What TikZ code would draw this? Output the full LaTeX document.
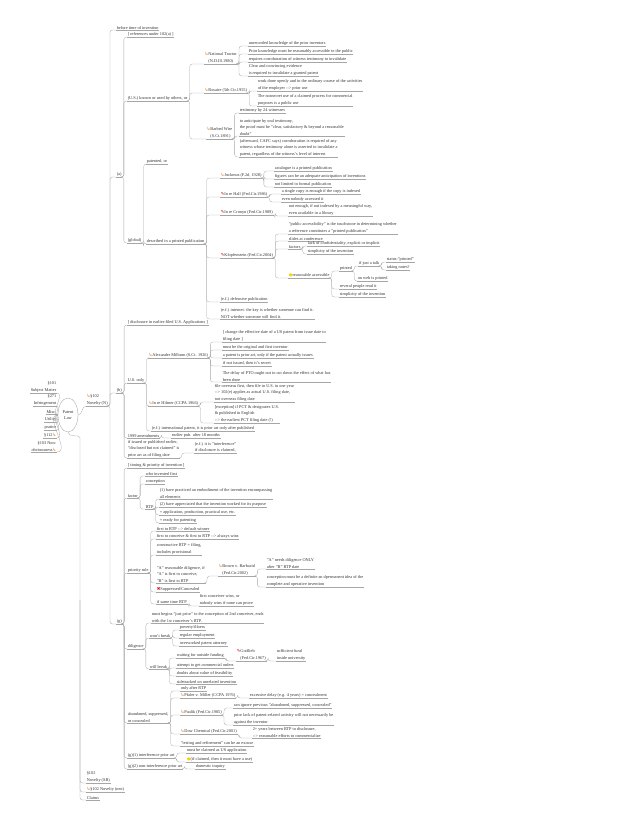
\documentclass[tikz,border=0pt]{standalone}
\usepackage{fontspec}
\setmainfont{Liberation Serif}
\newfontfamily\dv{DejaVu Sans}
\usetikzlibrary{shapes.geometric}
\newcommand\ia{{\dv\color{orange!85!black}↳}}
\newcommand\ip{{\dv\color{red!75!black}✎}}
\newcommand\ix{{\dv\color{red!80!black}✖}}
\newcommand\ib{{\dv\color{yellow!70!orange}●}}
\tikzset{
 t/.style={anchor=south west,inner sep=0.6pt,align=left,text=black!80,
   font=\fontsize{4.3}{6.4}\selectfont,
   append after command={(\tikzlastnode.south west) edge[draw=black!35,line width=0.3pt] (\tikzlastnode.south east)}},
 tr/.style={t,anchor=south east,align=right},
 con/.style={draw=black!35,line width=0.3pt,rounded corners=2.5pt}
}
\newcommand\lk[2]{\draw[con] (#1.south east) -- ++(1.5,0) |- (#2.south west);}
\newcommand\lkl[2]{\draw[con] (#2.west) to[out=180,in=0] (#1.south east);}
\begin{document}
\begin{tikzpicture}[x=1pt,y=-1pt]
\useasboundingbox (0,0) rectangle (638,826);
% center
\node[ellipse,draw=black!40,line width=0.3pt,inner sep=0.5pt,minimum width=20,minimum height=34,align=center,font=\fontsize{4.3}{6.4}\selectfont,text=black!80] (pl) at (68,415) {Patent\\Law};
\node[tr] (s101) at (57,393) {§101\\Subject Matter};
\node[tr] (s271) at (57,406) {§271\\Infringement};
\node[tr] (misc) at (57,414) {Misc.};
\node[tr] (util) at (57,422) {Utility};
\node[tr] (prat) at (57,430) {pratice};
\node[tr] (s112) at (57,438) {§112\ia};
\node[tr] (s103) at (57,452) {§103 Non-\\obviousness\ia};
\foreach \n in {s101,s271,misc,util,prat,s112,s103}{\lkl{\n}{pl}}
\node[t] (n102) at (86,406) {\ia§102\\Novelty (N)};
\node[t] (sb) at (86,783) {§102\\Novelty (SB)};
\node[t] (neo) at (86,792) {\ia§102 Novelty (neo)};
\node[t] (cl) at (86,800) {Claims};
\draw[con] (pl.east) to[out=0,in=180] (n102.south west);
\draw[con] (pl.south) to[out=-90,in=90] (80,440) |- (sb.south west);
\draw[con] (80,600) |- (neo.south west);
\draw[con] (80,600) |- (cl.south west);
% level (a)(b)(g)
\node[t] (bt) at (116,30) {before time of invention};
\node[t] (a) at (116,177) {(a)};
\node[t] (b) at (116,393) {(b)};
\node[t] (g) at (116,624) {(g)};
\foreach \n in {bt,a,b,g}{\lk{n102}{\n}}
% (a)
\node[t] (ref) at (127,37) {[ references under 102(a) ]};
\node[t] (us) at (127,101) {(U.S.) known or used  by others, or};
\node[t] (pat) at (146,164) {patented, or};
\node[t] (glob) at (127,243) {(global)};
\foreach \n in {ref,us,glob}{\lk{a}{\n}}
\lk{glob}{pat}
\node[t] (nt) at (204,64) {\ia National Tractor\\\hphantom{\ia}(N.D.Ill.1980)};
\node[t] (ros) at (204,93) {\ia Rosaire (5th Cir.1955)};
\node[t] (bw) at (206,139) {\ia Barbed Wire\\\hphantom{\ia}(S.Ct.1891)};
\foreach \n in {nt,ros,bw}{\lk{us}{\n}}
\node[t] (nt1) at (248,46) {unrecorded knowledge of the prior inventors};
\node[t] (nt2) at (248,54) {Prior knowledge must be reasonably accessible to the public};
\node[t] (nt3) at (248,62) {requires corroboration of witness testimony to invalidate};
\node[t] (nt4) at (248,76) {Clear and convincing evidence\\is required to invalidate a granted patent};
\foreach \n in {nt1,nt2,nt3,nt4}{\lk{nt}{\n}}
\node[t] (r1) at (257,91) {work done openly and in the ordinary course of the activities\\of the employer -{}-> prior use};
\node[t] (r2) at (257,106) {The nonsecret use of a claimed process for commercial\\purposes is a public use};
\lk{ros}{r1}\lk{ros}{r2}
\node[t] (b1) at (239,113) {testimony by 24 witnesses};
\node[t] (b2) at (239,136) {to anticipate by oral testimony,\\the proof must be "clear, satisfactory \& beyond a reasonable\\doubt"};
\node[t] (b3) at (239,157) {(afterward, CAFC says)  corroboration is required of any\\witness whose testimony alone is asserted to invalidate a\\patent, regardless of the witness's level of interest};
\lk{bw}{b1}\lk{bw}{b2}\lk{bw}{b3}
\node[t] (dp) at (146,244) {described  in a printed publication};
\lk{glob}{dp}
\node[t] (jo) at (220,178) {\ia Jockmus (F.2d, 1928)};
\node[t] (ha) at (220,197) {\ip In re Hall (Fed.Cir.1986)};
\node[t] (cr) at (220,215) {\ip In re Cronyn (Fed.Cir.1989)};
\node[t] (kl) at (220,258) {\ip Klopfenstein (Fed.Cir.2004)};
\node[t] (df) at (220,302) {(e.f.) defensive publication};
\node[t] (in) at (220,319) {(e.f.) internet: the key is whether someone can find it.\\NOT whether someone will find it.};
\foreach \n in {jo,ha,cr,kl,df,in}{\lk{dp}{\n}}
\node[t] (j1) at (274,171) {catalogue is a printed publication};
\node[t] (j2) at (274,179) {figures can be an adequate anticipation of inventions};
\node[t] (j3) at (274,187) {not limited to formal publication};
\foreach \n in {j1,j2,j3}{\lk{jo}{\n}}
\node[t] (h1) at (281,194) {a single copy is enough if the copy is indexed};
\node[t] (h2) at (281,202) {even nobody accessed it};
\lk{ha}{h1}\lk{ha}{h2}
\node[t] (c1) at (288,216) {not enough, if not indexed by a meaningful way,\\even available in a library};
\lk{cr}{c1}
\node[t] (k1) at (288,234) {"public accessibility" is the touchstone in determining whether\\a reference constitutes a "printed publication"};
\node[t] (k2) at (288,241) {slides at conference};
\node[t] (k3) at (288,249) {factors};
\node[t] (k4) at (288,278) {\ib reasonable accessible};
\foreach \n in {k1,k2,k3,k4}{\lk{kl}{\n}}
\node[t] (f1) at (307,246) {lack of confidentiality, explicit or implicit};
\node[t] (f2) at (307,254) {simplicity of the invention};
\lk{k3}{f1}\lk{k3}{f2}
\node[t] (pr) at (339,271) {printed};
\node[t] (ra2) at (339,289) {several people read it};
\node[t] (ra3) at (339,297) {simplicity of the invention};
\foreach \n in {pr,ra2,ra3}{\lk{k4}{\n}}
\node[t] (tk) at (358,266) {if just a talk};
\node[t] (web) at (357,281) {on web is printed};
\lk{pr}{tk}\lk{pr}{web}
\node[t] (st) at (386,262) {status:"printed"};
\node[t] (tn) at (386,270) {taking notes?};
\lk{tk}{st}\lk{tk}{tn}
% (b)
\node[t] (dis) at (127,325) {[ disclosure in earlier-filed U.S. Applications ]};
\node[t] (uso) at (127,383) {U.S. only};
\node[t] (am99) at (127,438) {1999  amendments};
\node[t] (iss) at (127,458) {if issued or published earlier,\\"disclosed but not claimed" is\\prior art as of filing date};
\foreach \n in {dis,uso,am99,iss}{\lk{b}{\n}}
\node[t] (am) at (148,358) {\ia Alexander Milburn (S.Ct. 1926)};
\node[t] (hi) at (148,406) {\ia In re Hilmer (CCPA 1966)};
\node[t] (ip) at (151,431) {(e.f.) international patent, it is prior art only after published};
\foreach \n in {am,hi,ip}{\lk{uso}{\n}}
\node[t] (m1) at (222,342) {[ change the effective date of a US patent from issue date to\\filing date ]};
\node[t] (m2) at (222,350) {must be the original and first inventor};
\node[t] (m3) at (222,358) {a patent is prior art, only if the patent actually issues};
\node[t] (m4) at (222,366) {if not issued, then it's secret};
\node[t] (m5) at (222,382) {The delay of PTO ought not to cut down the effect of what has\\been done};
\foreach \n in {m1,m2,m3,m4,m5}{\lk{am}{\n}}
\node[t] (hi1) at (214,402) {file overseas first, then file in U.S. in one year\\-{}-> 102(e) applies as actual U.S. filing date,\\not overseas filing date};
\node[t] (hi2) at (214,423) {[exception] if PCT \& designates U.S.\\\& published in English\\-{}-> the earliest PCT filing date (!)};
\lk{hi}{hi1}\lk{hi}{hi2}
\node[t] (e18) at (171,438) {earlier pub. after 18 months};
\lk{am99}{e18}
\node[t] (itf) at (194,453) {(e.f.) it is "interference"\\if disclosure is claimed,};
\lk{iss}{itf}
% (g)
\node[t] (tp) at (127,468) {[ timing \& priority of invention ]};
\node[t] (fa) at (127,498) {factor};
\node[t] (prr) at (127,573) {priority rule};
\node[t] (dil) at (127,649) {diligence};
\node[t] (abn) at (127,723) {abandoned, suppressed,\\or concealed};
\node[t] (g1) at (127,758) {(g)(1) interference prior art};
\node[t] (g2) at (127,769) {(g)(2) non-interference prior art};
\foreach \n in {tp,fa,prr,dil,abn,g1,g2}{\lk{g}{\n}}
\node[t] (wf) at (145,476) {who invented first};
\node[t] (co) at (145,484) {conception};
\node[t] (rtp) at (145,509) {RTP};
\foreach \n in {wf,co,rtp}{\lk{fa}{\n}}
\node[t] (rt1) at (159,499) {(1) have practiced an embodiment of the invention encompassing\\all elements};
\node[t] (rt2) at (159,507) {(2) have appreciated that the invention worked for its purpose};
\node[t] (rt3) at (159,515) {= application, production, practical use, etc.};
\node[t] (rt4) at (159,523) {= ready for patenting};
\foreach \n in {rt1,rt2,rt3,rt4}{\lk{rtp}{\n}}
\node[t] (p1) at (156,531) {first to RTP -{}-> default winner};
\node[t] (p2) at (156,539) {first to conceive \& first to RTP -{}-> always wins};
\node[t] (p3) at (156,555) {constructive RTP = filing,\\includes provisional};
\node[t] (p4) at (156,583) {"A" reasonable diligence, if\\"A" is first to conceive,\\"B" is first to RTP};
\node[t] (p5) at (156,592) {\ix Suppressed/Concealed};
\node[t] (p6) at (156,604) {if same time RTP};
\foreach \n in {p1,p2,p3,p4,p5,p6}{\lk{prr}{\n}}
\node[t] (bb) at (218,576) {\ia Brown v. Barbacid\\\hphantom{\ia}(Fed.Cir.2002)};
\lk{p4}{bb}
\node[t] (bb1) at (266,569) {"A" needs diligence ONLY\\after "B" RTP date};
\node[t] (bb2) at (266,587) {conception must be a definite an dpermanent idea of the\\complete and operative invention};
\lk{bb}{bb1}\lk{bb}{bb2}
\node[t] (p61) at (199,606) {first conceiver wins, or\\nobody wins if none can prove};
\lk{p6}{p61}
\node[t] (d1) at (151,623) {must begins "just prior" to the conception of 2nd conceiver, ends\\with the 1st conceiver's RTP.};
\node[t] (wb) at (149,638) {won't break};
\node[t] (wlb) at (149,669) {will break};
\foreach \n in {d1,wb,wlb}{\lk{dil}{\n}}
\node[t] (w1) at (179,630) {poverty/illness};
\node[t] (w2) at (179,638) {regular employment};
\node[t] (w3) at (179,646) {overworked patent attorney};
\foreach \n in {w1,w2,w3}{\lk{wb}{\n}}
\node[t] (x1) at (176,658) {waiting for outside funding};
\node[t] (x2) at (176,668) {attempt to get commercial orders};
\node[t] (x3) at (176,676) {doubts about value of feasibility};
\node[t] (x4) at (176,684) {sidetracked on unrelated invention};
\foreach \n in {x1,x2,x3,x4}{\lk{wlb}{\n}}
\node[t] (go) at (236,661) {\ip Gotflieb\\\hphantom{\ip}(Fed.Cir.1967)};
\lk{x1}{go}
\node[t] (go1) at (276,661) {sufficient fund\\inside university};
\lk{go}{go1}
\node[t] (a1) at (180,691) {only after RTP};
\node[t] (pf) at (180,698) {\ia Pfaler v. Miller (CCPA 1976)};
\node[t] (pa) at (180,715) {\ia Paulik (Fed.Cir.1985)};
\node[t] (dc) at (180,734) {\ia Dow Chemical (Fed.Cir.2001)};
\node[t] (te) at (180,746) {"testing and refinement" can be an excuse};
\foreach \n in {a1,pf,pa,dc,te}{\lk{abn}{\n}}
\node[t] (pf1) at (249,698) {excessive delay (e.g. 4 years) = concealment};
\lk{pf}{pf1}
\node[t] (pa1) at (233,708) {can ignore previous "abandoned,  suppressed, concealed"};
\node[t] (pa2) at (233,725) {prior lack of patent-related activity will not necessarily be\\against the inventor};
\lk{pa}{pa1}\lk{pa}{pa2}
\node[t] (dc1) at (252,738) {2+ years between RTP to disclosure,\\-{}-> reasonable efforts to commercialize};
\lk{dc}{dc1}
\node[t] (g11) at (186,753) {must be claimed as US application};
\node[t] (g12) at (186,762) {\ib(if claimed, then it must have a use)};
\lk{g1}{g11}\lk{g1}{g12}
\node[t] (g21) at (195,769) {domestic inquiry};
\lk{g2}{g21}
\end{tikzpicture}
\end{document}
